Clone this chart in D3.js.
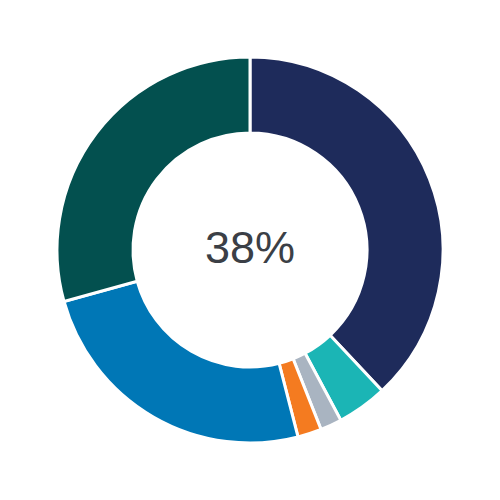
<!DOCTYPE html>
<html>
<head>
<meta charset="utf-8">
<script src="https://cdn.jsdelivr.net/npm/d3@7"></script>
<style>
  body { margin: 0; background: #fff; }
</style>
</head>
<body>
<div id="chart"></div>
<script>
// slice values (percent), clockwise from 12 o'clock
const categories = ["A", "B", "C", "D", "E", "F"];
const values = [38, 4.2, 1.8, 2.0, 24.7, 29.3];
const colors = ["#1e2b5b", "#1bb5b5", "#a9b4c1", "#f47b20", "#0077b6", "#03504f"];
const centerLabel = "38%";

const width = 500, height = 500;
const outerRadius = 193, innerRadius = 117;

const svg = d3.select("#chart")
    .append("svg")
    .attr("width", width)
    .attr("height", height)
    .append("g")
    .attr("transform", "translate(" + width / 2 + "," + height / 2 + ")");

const pie = d3.pie()
    .sort(null)
    .value(d => d.value);

const arc = d3.arc()
    .innerRadius(innerRadius)
    .outerRadius(outerRadius);

const data = categories.map((c, i) => ({ name: c, value: values[i], color: colors[i] }));

svg.selectAll("path")
    .data(pie(data))
    .join("path")
    .attr("d", arc)
    .attr("fill", d => d.data.color)
    .attr("stroke", "#fff")
    .attr("stroke-width", 3);

svg.append("text")
    .attr("x", 0)
    .attr("y", 13)
    .attr("text-anchor", "middle")
    .style("font-family", "'Liberation Sans', Arial, sans-serif")
    .style("font-size", "45px")
    .style("fill", "#3b3f46")
    .text(centerLabel);
</script>
</body>
</html>
